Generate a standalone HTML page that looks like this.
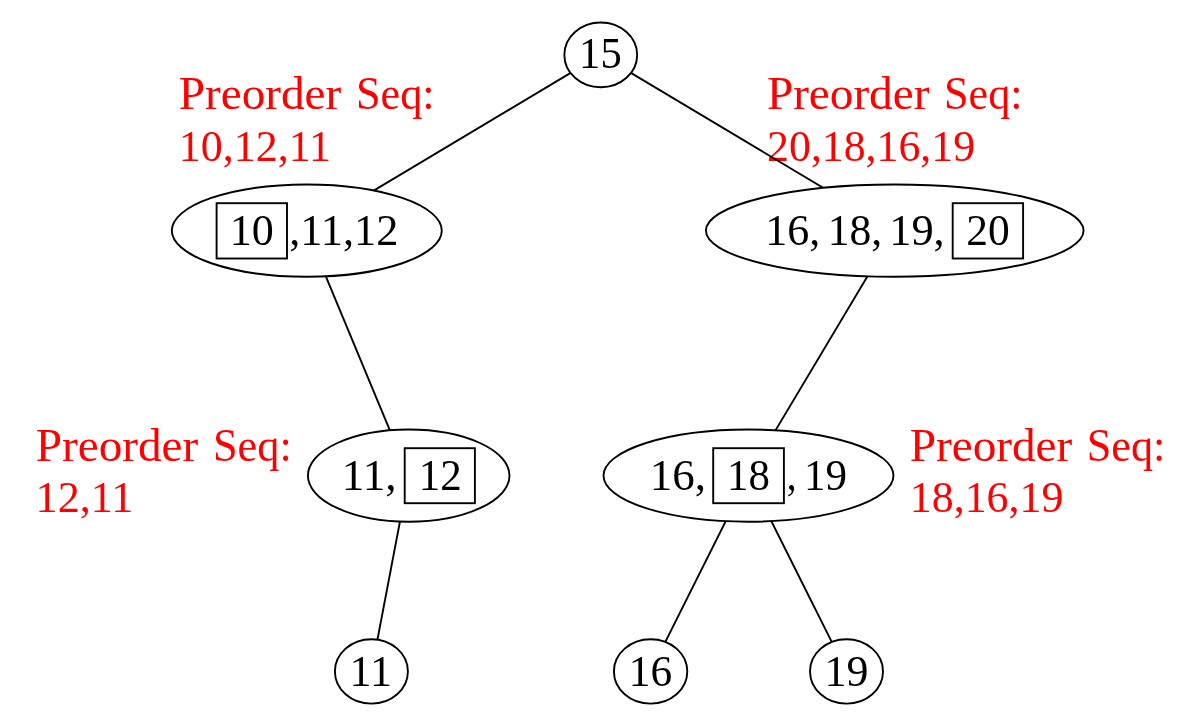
<!DOCTYPE html>
<html><head><meta charset="utf-8"><style>
html,body{margin:0;padding:0;background:#fff;width:1200px;height:725px;overflow:hidden}
svg{display:block;will-change:transform}
text{font-family:"Liberation Serif",serif;white-space:pre}
</style></head><body>
<svg width="1200" height="725" viewBox="0 0 1200 725">
<text transform="translate(178.78,108.90) scale(1.07315,1.04176)" fill="#ff0000" font-size="44">Preorder</text>
<text transform="translate(355.95,108.90) scale(1.00530,1.04176)" fill="#ff0000" font-size="44">Seq:</text>
<text transform="translate(178.79,160.80) scale(0.99909,0.98485)" fill="#ff0000" font-size="44">10,12,11</text>
<text transform="translate(766.88,108.90) scale(1.07315,1.04176)" fill="#ff0000" font-size="44">Preorder</text>
<text transform="translate(944.06,108.90) scale(1.00390,1.04176)" fill="#ff0000" font-size="44">Seq:</text>
<text transform="translate(767.10,160.80) scale(0.99545,0.98485)" fill="#ff0000" font-size="44">20,18,16,19</text>
<text transform="translate(35.78,460.90) scale(1.07315,1.04176)" fill="#ff0000" font-size="44">Preorder</text>
<text transform="translate(212.95,460.90) scale(1.00669,1.04176)" fill="#ff0000" font-size="44">Seq:</text>
<text transform="translate(35.57,512.40) scale(1.00403,0.98485)" fill="#ff0000" font-size="44">12,11</text>
<text transform="translate(909.78,460.90) scale(1.07315,1.04176)" fill="#ff0000" font-size="44">Preorder</text>
<text transform="translate(1086.75,460.90) scale(1.00530,1.04176)" fill="#ff0000" font-size="44">Seq:</text>
<text transform="translate(909.80,512.40) scale(0.99780,0.98485)" fill="#ff0000" font-size="44">18,16,19</text>
<line x1="600.75" y1="54.9" x2="306.8" y2="230.6" stroke="#000" stroke-width="1.9"/>
<line x1="600.75" y1="54.9" x2="894.75" y2="230.6" stroke="#000" stroke-width="1.9"/>
<line x1="306.8" y1="230.6" x2="408.7" y2="475.6" stroke="#000" stroke-width="1.9"/>
<line x1="894.75" y1="230.6" x2="748.5" y2="475.6" stroke="#000" stroke-width="1.9"/>
<line x1="408.7" y1="475.6" x2="371.4" y2="671.4" stroke="#000" stroke-width="1.9"/>
<line x1="748.5" y1="475.6" x2="650.6" y2="671.4" stroke="#000" stroke-width="1.9"/>
<line x1="748.5" y1="475.6" x2="846.5" y2="671.4" stroke="#000" stroke-width="1.9"/>
<ellipse cx="600.75" cy="54.9" rx="36.40" ry="32.40" fill="#fff" stroke="#000" stroke-width="1.9"/>
<ellipse cx="306.8" cy="230.6" rx="135.00" ry="46.15" fill="#fff" stroke="#000" stroke-width="1.9"/>
<ellipse cx="894.75" cy="230.6" rx="188.85" ry="46.15" fill="#fff" stroke="#000" stroke-width="1.9"/>
<ellipse cx="408.7" cy="475.6" rx="100.80" ry="46.10" fill="#fff" stroke="#000" stroke-width="1.9"/>
<ellipse cx="748.5" cy="475.6" rx="145.00" ry="46.10" fill="#fff" stroke="#000" stroke-width="1.9"/>
<ellipse cx="371.4" cy="671.4" rx="36.50" ry="32.20" fill="#fff" stroke="#000" stroke-width="1.9"/>
<ellipse cx="650.6" cy="671.4" rx="36.70" ry="32.20" fill="#fff" stroke="#000" stroke-width="1.9"/>
<ellipse cx="846.5" cy="671.4" rx="36.50" ry="32.20" fill="#fff" stroke="#000" stroke-width="1.9"/>
<rect x="216.60" y="203.20" width="70.40" height="55.30" fill="none" stroke="#000" stroke-width="1.9"/>
<rect x="952.70" y="203.20" width="70.40" height="55.30" fill="none" stroke="#000" stroke-width="1.9"/>
<rect x="404.70" y="448.20" width="70.20" height="55.00" fill="none" stroke="#000" stroke-width="1.9"/>
<rect x="713.20" y="448.20" width="70.70" height="55.00" fill="none" stroke="#000" stroke-width="1.9"/>
<text transform="translate(579.11,67.90) scale(0.96808,0.98485)" fill="#000" font-size="44">15</text>
<text transform="translate(229.78,245.00) scale(1.00069,0.98485)" fill="#000" font-size="44">10</text>
<text transform="translate(289.28,245.00) scale(1.00690,0.98485)" fill="#000" font-size="44">,11,12</text>
<text transform="translate(765.18,245.00) scale(1.00207,0.98485)" fill="#000" font-size="44">16,</text>
<text transform="translate(827.72,245.00) scale(0.99174,0.98485)" fill="#000" font-size="44">18,</text>
<text transform="translate(889.26,245.00) scale(1.00826,0.98485)" fill="#000" font-size="44">19,</text>
<text transform="translate(966.22,245.00) scale(0.98814,0.98485)" fill="#000" font-size="44">20</text>
<text transform="translate(341.68,490.00) scale(1.02914,0.98485)" fill="#000" font-size="44">11,</text>
<text transform="translate(418.77,490.00) scale(0.97895,0.98485)" fill="#000" font-size="44">12</text>
<text transform="translate(649.85,490.00) scale(1.02273,0.98485)" fill="#000" font-size="44">16,</text>
<text transform="translate(727.04,490.00) scale(0.97347,0.98485)" fill="#000" font-size="44">18</text>
<text transform="translate(786.66,490.00) scale(0.89394,0.98485)" fill="#000" font-size="44">,</text>
<text transform="translate(804.02,490.00) scale(0.97719,0.98485)" fill="#000" font-size="44">19</text>
<text transform="translate(349.58,685.50) scale(1.00046,0.99174)" fill="#000" font-size="44">11</text>
<text transform="translate(628.84,685.50) scale(0.98542,0.99174)" fill="#000" font-size="44">16</text>
<text transform="translate(824.60,685.50) scale(0.99670,0.99174)" fill="#000" font-size="44">19</text>
</svg></body></html>
